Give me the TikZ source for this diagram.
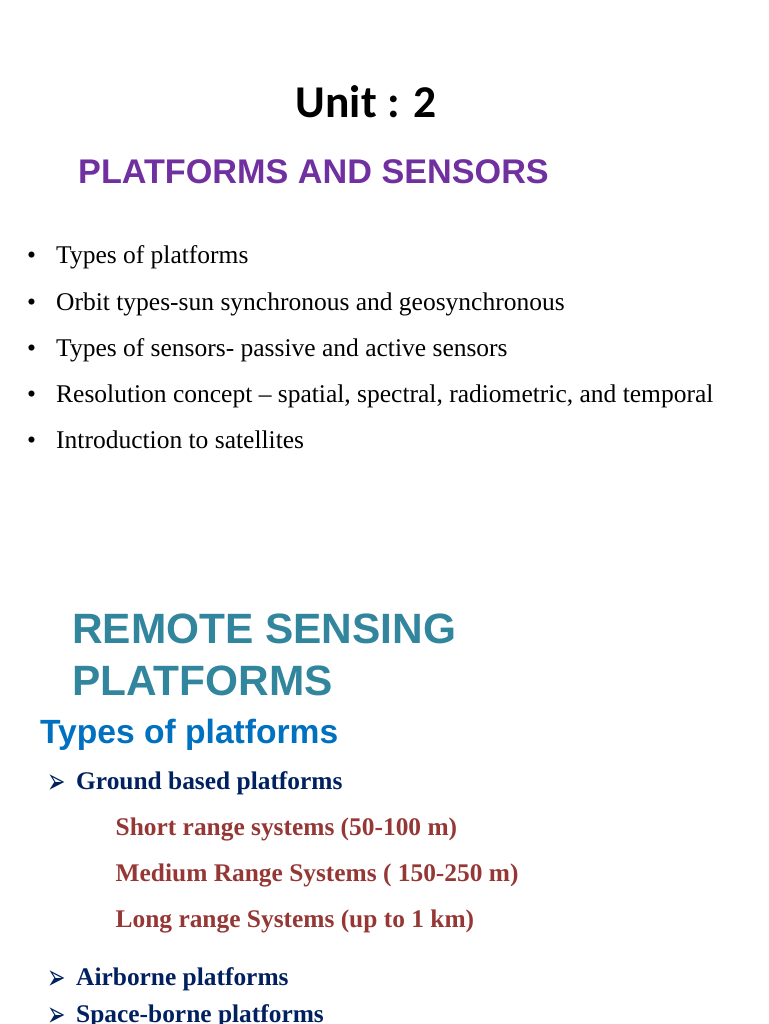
\documentclass[tikz,border=0pt]{standalone}
\usepackage{fontspec}
\setmainfont{Liberation Serif}
\newfontfamily\headfont{Liberation Sans}
\newfontfamily\unitfont{Carlito}
\newfontfamily\arrowfont{DejaVu Sans}
\usetikzlibrary{positioning}
\definecolor{unitpurple}{HTML}{7030A0}
\definecolor{tealhead}{HTML}{31859C}
\definecolor{bluehead}{HTML}{0070C0}
\definecolor{navyitem}{HTML}{002060}
\definecolor{reditem}{HTML}{953735}
\tikzset{
  plainline/.style={anchor=base west, inner sep=0pt, font=\fontsize{25.5}{25.5}\selectfont, text=black},
  navyline/.style={anchor=base west, inner sep=0pt, font=\fontsize{25.4}{25.4}\selectfont\bfseries, text=navyitem},
  redline/.style={anchor=base west, inner sep=0pt, font=\fontsize{25.4}{25.4}\selectfont\bfseries, text=reditem},
  arrowmark/.style={anchor=base west, inner sep=0pt, yshift=-4pt, font=\fontsize{22}{22}\selectfont\arrowfont, text=navyitem},
  headline/.style={anchor=base west, inner sep=0pt, font=\fontsize{42.4}{42.4}\selectfont\headfont\bfseries, text=tealhead}
}
\begin{document}
\begin{tikzpicture}[x=1pt,y=-1pt]
        \useasboundingbox (0,0) rectangle (768,1024);
        \node[anchor=base, inner sep=0pt, font=\fontsize{45.5}{45.5}\selectfont\unitfont\bfseries] (unit) at (366,118) {Unit : 2};
        \node[anchor=base west, inner sep=0pt, font=\fontsize{34.2}{34.2}\selectfont\headfont\bfseries, text=unitpurple] (title) at (78,184) {PLATFORMS AND SENSORS};

        \foreach \name/\ypos/\txt in {a/263.5/Types of platforms, b/310/Orbit types-sun synchronous and geosynchronous, c/356/Types of sensors- passive and active sensors, d/402/{Resolution concept -- spatial, spectral, radiometric, and temporal}, e/448.5/Introduction to satellites} {
          \node[plainline] (bul\name) at (27,\ypos) {•};
          \node[plainline] (item\name) at (56,\ypos) {\txt};
        }

        \node[headline] (remote) at (72,643) {REMOTE SENSING};
        \node[headline] (plat) at (72,695) {PLATFORMS};
        \node[anchor=base west, inner sep=0pt, font=\fontsize{33.6}{33.6}\selectfont\headfont\bfseries, text=bluehead] (types) at (40,743) {Types of platforms};

        \foreach \name/\ypos/\txt in {g/789/Ground based platforms, h/985/Airborne platforms, i/1022/Space-borne platforms} {
          \node[arrowmark] (mark\name) at (47,\ypos) {\scalebox{1}[1.6]{➢}};
          \node[navyline] (item\name) at (76,\ypos) {\txt};
        }
        \foreach \name/\ypos/\txt in {s/835/Short range systems (50-100 m), m/881/{Medium Range Systems ( 150-250 m)}, l/927/Long range Systems (up to 1 km)} {
          \node[redline] (item\name) at (115.5,\ypos) {\txt};
        }
\end{tikzpicture}
\end{document}
